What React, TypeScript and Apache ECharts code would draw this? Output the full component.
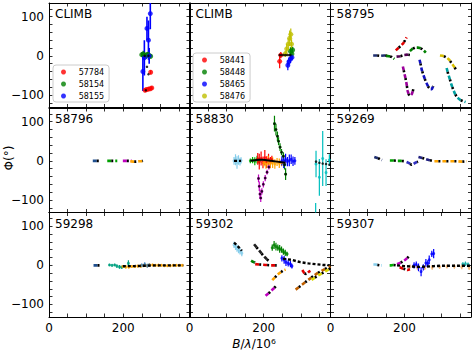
import React, { useEffect, useRef } from 'react';
import * as echarts from 'echarts';

const FONT = 'DejaVu Sans';
const panelLabels = ['CLIMB', 'CLIMB', '58795', '58796', '58830', '59269', '59298', '59302', '59307'];
const xTickLabels = [0, 200];
const yTickLabels = [-100, 0, 100];
const legendA = ['57784', '58154', '58155'];
const legendB = ['58441', '58448', '58465', '58476'];

// Panel 0 (CLIMB)
const p0_57784 = [[259, -88, 4], [263, -86, 4], [268, -85, 4], [273, -84, 4], [277, -82, 4], [274, -42, 5]];
const p0_58154 = [[250, 3, 6], [254, 5, 8], [258, 2, 6], [262, 0, 8], [266, 4, 6], [270, 1, 6], [274, -1, 6]];
const p0_58155 = [[253, -40, 50], [257, -5, 45], [264, 70, 30], [268, 40, 50], [273, 108, 40], [270, 0, 20]];
const p0_model = [[264, -28], [268, -47], [261, -88], [258, 0], [268, 0]];
// Panel 1 (CLIMB)
const p1_58441 = [[243, -14, 18], [246, 2, 8]];
const p1_58448 = [[272, 12, 10], [276, 5, 12], [278, 15, 8]];
const p1_58465 = [[265, -24, 13], [268, -15, 10], [272, -8, 10], [276, -4, 8]];
const p1_58476 = [[258, 5, 8], [262, 18, 12], [266, 30, 15], [270, 45, 20], [273, 55, 15], [275, 30, 12]];
const p1_model = [[243, 2], [248, 2], [253, 2], [258, 2], [263, 2], [268, 2], [272, 2]];
// Panel 2 (58795)
const p2_navy = [[115, 1], [125, 1], [135, 0], [145, 1], [155, 0]];
const p2_green = [[150, 0], [158, -1], [165, -3], [172, -8]];
const p2_red = [[176, 14], [183, 20], [190, 26], [196, 32], [201, 40], [205, 47]];
const p2_dark = [[178, -2], [188, -1], [198, 2], [207, 3], [214, 2]];
const p2_green2 = [[214, 12], [221, 18], [228, 21], [235, 21], [241, 20], [247, 17], [252, 13], [257, 8]];
const p2_purple = [[195, -27], [198, -40], [201, -53], [204, -66], [206, -78], [208, -90], [211, -99], [215, -102], [219, -98], [222, -90], [224, -82]];
const p2_blue = [[240, -10], [243, -22], [246, -36], [250, -48], [255, -61], [260, -72], [264, -80], [269, -85], [273, -85], [277, -77]];
const p2_yellow = [[295, 1], [302, 0], [308, -2], [314, -5], [320, -10], [326, -18], [331, -25], [336, -32], [339, -36]];
const p2_cyan = [[313, -31], [317, -46], [322, -61], [326, -74], [331, -87], [336, -98], [342, -107], [350, -113], [358, -116], [364, -118]];
// Panel 3 (58796)
const p3_navy = [[118, 0], [123, 0], [128, 0], [133, 0], [138, 0]];
const p3_green = [[157, 0], [164, 0], [170, 0], [177, 0], [184, 0]];
const p3_purple = [[199, 0], [205, 0], [211, 0], [217, 0], [223, 0]];
const p3_orange = [[219, -1], [227, -2], [235, -2], [243, -1], [250, -1], [253, 0]];
// Panel 4 (58830)
const p4_sky = [[120, 0, 10], [124, 3, 14], [128, -4, 16], [132, 2, 12], [136, -2, 10], [139, 1, 8]];
const p4_skyModel = [[120, 0], [124, 0], [128, 0], [132, 0], [136, 0], [139, 0]];
const p4_green = [[164, 0, 6], [170, 2, 8], [176, -1, 10], [182, 3, 10], [188, 0, 8]];
const p4_red = [[184, 5, 15], [188, -2, 20], [193, 6, 18], [198, -4, 15], [203, 8, 20], [208, -3, 15], [213, 4, 14], [218, -2, 12], [222, 3, 10]];
const p4_orange = [[200, -5, 10], [206, -8, 12], [212, -2, 15], [218, -7, 12], [224, -4, 14], [230, -8, 12], [236, -3, 10], [242, -6, 12], [248, -4, 10], [255, -5, 8]];
const p4_model = [[164, 0], [172, 1], [180, 2], [188, 3], [196, 3], [204, 2], [212, 1], [220, 0], [228, -1], [236, -2], [244, -3], [252, -4], [258, -5]];
const p4_magenta = [[186, -45, 10], [188, -65, 12], [190, -85, 12], [192, -95, 10], [195, -78, 8], [199, -60, 8], [204, -44, 8], [209, -29, 6], [214, -16, 6]];
const p4_green2 = [[229, 95, 20], [233, 80, 15], [237, 63, 12], [240, 50, 10], [244, 35, 10], [248, 22, 8], [253, 12, 10], [256, -10, 12], [259, -34, 15]];
const p4_blue = [[249, 0, 12], [254, -3, 15], [259, 3, 15], [264, -2, 12], [269, 1, 15], [274, 4, 12], [279, -1, 12], [284, 0, 10]];
const p4_cyan = [[341, -8, 34], [350, -42, 47], [359, 6, 70], [368, -30, 34], [377, 2, 15], [340, -150, 42]];
const p4_cyanModel = [[341, -2], [350, -5], [359, -7], [368, -8], [377, -10]];
// Panel 5 (59269)
const p5_navy = [[118, 10], [124, 8], [130, 6], [136, 3], [139, 2]];
const p5_green = [[160, 1], [170, 1], [180, 0], [190, 0], [200, -1]];
const p5_blue = [[205, -3], [212, -6], [218, -10], [224, -8], [230, -4], [236, -2]];
const p5_black = [[237, 10], [245, 8], [255, 5], [265, 2], [275, 0]];
const p5_orange = [[280, -1], [295, -1], [310, -1], [325, -1], [340, -1], [355, -2], [367, -1]];
// Panel 6 (59298)
const p6_navy = [[120, 0], [125, 0], [130, 0], [135, 0], [140, 0]];
const p6_teal = [[163, 1, 3], [170, 0, 3], [177, 1, 3], [183, -2, 4], [190, -4, 5], [196, -5, 4], [202, -3, 3], [214, 5, 8]];
const p6_orange = [[199, -3, 3], [207, -4, 4], [215, -4, 4], [223, -3, 3], [231, -3, 4], [239, -2, 3], [247, -2, 4], [255, -1, 3], [263, -1, 3], [271, 1, 4], [279, 1, 3], [287, 0, 3], [295, 0, 4], [303, 0, 3], [311, -1, 3], [319, -1, 3], [327, -1, 3], [335, 0, 3], [343, 0, 3], [351, 0, 3], [359, 0, 3]];
const p6_blue = [[250, 0, 5], [258, 2, 6], [265, -1, 5], [270, 1, 4]];
const p6_model = [[199, -2], [230, -2], [260, -1], [290, 0], [320, 0], [362, 0]];
// Panel 7 (59302)
const p7_sky = [[120, 52, 8], [124, 48, 9], [128, 44, 9], [132, 40, 9], [136, 36, 8], [141, 31, 8]];
const p7_skyModel = [[120, 58], [126, 53], [131, 48], [136, 43], [141, 37]];
const p7_black = [[174, 54], [180, 47], [186, 40], [192, 33], [198, 26], [204, 20], [209, 15], [213, 12]];
const p7_green = [[166, 12], [171, 9], [177, 7]];
const p7_red = [[177, 3], [190, 2], [205, 1], [220, 0], [235, 0]];
const p7_green2 = [[223, 45, 8], [228, 52, 10], [233, 48, 10], [238, 45, 8], [243, 42, 10], [248, 40, 8], [253, 35, 8], [258, 32, 8], [263, 29, 6]];
const p7_blue = [[249, 18, 8], [255, 14, 10], [260, 8, 10], [266, 5, 8], [272, 3, 8], [276, -2, 6]];
const p7_black2 = [[252, 17], [275, 14], [299, 8], [320, 5], [340, 3], [360, 1], [380, 0]];
const p7_orange = [[223, -38], [229, -32], [235, -26], [241, -21], [247, -17], [253, -13], [259, -11]];
const p7_purple = [[205, -78], [210, -74], [215, -70], [220, -65], [226, -60], [231, -55], [236, -50]];
const p7_red2 = [[304, -12], [308, -18], [313, -22], [318, -20], [322, -16], [326, -14]];
const p7_darkorange = [[286, -62], [300, -52], [315, -41], [330, -30], [345, -20], [360, -12], [372, -6], [380, -3]];
const p7_yellow = [[329, -37], [340, -30], [350, -24], [362, -18], [372, -12], [380, -8]];
// Panel 8 (59307)
const p8_sky = [[116, 2], [122, 2], [128, 1], [134, 0], [139, 0]];
const p8_green = [[160, 0], [165, 0], [170, 1], [177, 0]];
const p8_magenta = [[180, 3], [188, 6], [195, 10], [202, 14], [208, 19], [214, 25]];
const p8_red = [[187, -5], [195, -8], [202, -10], [208, -12], [215, -10]];
const p8_orange = [[215, -3, 5], [235, -5, 6], [255, -6, 6], [275, -5, 6], [295, -4, 5], [315, -3, 5], [335, -3, 6], [355, -4, 6], [375, -6, 6]];
const p8_blue = [[226, 0, 8], [232, 2, 8], [238, -5, 10], [245, -16, 12], [251, -5, 8], [258, 6, 10], [263, 5, 8], [267, 14, 11], [274, 29, 8], [279, 30, 12]];
const p8_black = [[180, 0], [200, -2], [220, -3], [240, -4], [260, -3], [280, -2], [300, -1], [320, -1], [340, -1], [360, -1], [378, -1]];
const p8_cyan = [[358, 3, 5], [365, 4, 6], [372, 2, 5]];

type Trace = { p: number; kind: 'pts' | 'model' | 'track' | 'mdash' | 'solid'; color: string; data: number[][]; name?: string; size?: number; ew?: number };

const traces: Trace[] = [
  { p: 0, kind: 'pts', color: '#ff0000', data: p0_57784, name: '57784', size: 5 },
  { p: 0, kind: 'pts', color: '#008000', data: p0_58154, name: '58154', size: 5 },
  { p: 0, kind: 'pts', color: '#0000ff', data: p0_58155, name: '58155', size: 5, ew: 1.6 },
  { p: 0, kind: 'model', color: '#000', data: p0_model },
  { p: 1, kind: 'pts', color: '#ff0000', data: p1_58441, name: '58441', size: 5 },
  { p: 1, kind: 'pts', color: '#008000', data: p1_58448, name: '58448', size: 5 },
  { p: 1, kind: 'pts', color: '#0000ff', data: p1_58465, name: '58465', size: 5 },
  { p: 1, kind: 'pts', color: '#bfbf00', data: p1_58476, name: '58476', size: 5 },
  { p: 1, kind: 'model', color: '#000', data: p1_model },
  { p: 2, kind: 'track', color: '#1f2f6f', data: p2_navy },
  { p: 2, kind: 'track', color: '#008000', data: p2_green },
  { p: 2, kind: 'track', color: '#e00000', data: p2_red },
  { p: 2, kind: 'track', color: '#500050', data: p2_dark },
  { p: 2, kind: 'track', color: '#008000', data: p2_green2 },
  { p: 2, kind: 'track', color: '#9b009b', data: p2_purple },
  { p: 2, kind: 'track', color: '#1010c0', data: p2_blue },
  { p: 2, kind: 'track', color: '#d8c000', data: p2_yellow },
  { p: 2, kind: 'track', color: '#00a0a0', data: p2_cyan },
  { p: 3, kind: 'track', color: '#1f4f8f', data: p3_navy },
  { p: 3, kind: 'track', color: '#00a000', data: p3_green },
  { p: 3, kind: 'track', color: '#c000c0', data: p3_purple },
  { p: 3, kind: 'track', color: '#ffa500', data: p3_orange },
  { p: 4, kind: 'pts', color: '#87ceeb', data: p4_sky },
  { p: 4, kind: 'mdash', color: '#000', data: p4_skyModel },
  { p: 4, kind: 'pts', color: '#00b000', data: p4_green },
  { p: 4, kind: 'pts', color: '#ff0000', data: p4_red },
  { p: 4, kind: 'pts', color: '#ffa500', data: p4_orange },
  { p: 4, kind: 'solid', color: '#000', data: p4_model },
  { p: 4, kind: 'pts', color: '#c000c0', data: p4_magenta },
  { p: 4, kind: 'model', color: '#000', data: p4_magenta },
  { p: 4, kind: 'pts', color: '#008000', data: p4_green2 },
  { p: 4, kind: 'model', color: '#000', data: p4_green2 },
  { p: 4, kind: 'pts', color: '#0000ff', data: p4_blue },
  { p: 4, kind: 'pts', color: '#00bfbf', data: p4_cyan },
  { p: 4, kind: 'model', color: '#000', data: p4_cyanModel },
  { p: 5, kind: 'track', color: '#1f2f6f', data: p5_navy },
  { p: 5, kind: 'track', color: '#00a000', data: p5_green },
  { p: 5, kind: 'track', color: '#3030c0', data: p5_blue },
  { p: 5, kind: 'track', color: '#202080', data: p5_black },
  { p: 5, kind: 'track', color: '#ffa500', data: p5_orange },
  { p: 6, kind: 'track', color: '#1f4f8f', data: p6_navy },
  { p: 6, kind: 'pts', color: '#00a080', data: p6_teal },
  { p: 6, kind: 'pts', color: '#ffa500', data: p6_orange },
  { p: 6, kind: 'pts', color: '#4682b4', data: p6_blue },
  { p: 6, kind: 'mdash', color: '#000', data: p6_model },
  { p: 7, kind: 'pts', color: '#87ceeb', data: p7_sky },
  { p: 7, kind: 'mdash', color: '#000', data: p7_skyModel },
  { p: 7, kind: 'track', color: '#202020', data: p7_black },
  { p: 7, kind: 'track', color: '#008000', data: p7_green },
  { p: 7, kind: 'track', color: '#e00000', data: p7_red },
  { p: 7, kind: 'pts', color: '#008000', data: p7_green2 },
  { p: 7, kind: 'pts', color: '#0000ff', data: p7_blue },
  { p: 7, kind: 'mdash', color: '#000', data: p7_black2 },
  { p: 7, kind: 'track', color: '#ffa500', data: p7_orange },
  { p: 7, kind: 'track', color: '#c000c0', data: p7_purple },
  { p: 7, kind: 'track', color: '#e00000', data: p7_red2 },
  { p: 7, kind: 'track', color: '#c06000', data: p7_darkorange },
  { p: 7, kind: 'track', color: '#d8d800', data: p7_yellow },
  { p: 8, kind: 'track', color: '#87ceeb', data: p8_sky },
  { p: 8, kind: 'track', color: '#00b000', data: p8_green },
  { p: 8, kind: 'track', color: '#c000c0', data: p8_magenta },
  { p: 8, kind: 'track', color: '#e00000', data: p8_red },
  { p: 8, kind: 'pts', color: '#f0b070', data: p8_orange },
  { p: 8, kind: 'pts', color: '#0000ff', data: p8_blue },
  { p: 8, kind: 'mdash', color: '#000', data: p8_black },
  { p: 8, kind: 'pts', color: '#20b2aa', data: p8_cyan },
];

const colLeft = [49, 189.5, 330.5];
const rowTop = [3, 108, 212.5];
const W = 141;
const H = 104.5;

function errItem(color: string, lw: number) {
  return (params: any, api: any) => {
    const x = api.value(0), y = api.value(1), e = api.value(2);
    const a = api.coord([x, y - e]);
    const b = api.coord([x, y + e]);
    return { type: 'line', shape: { x1: a[0], y1: a[1], x2: b[0], y2: b[1] }, style: { stroke: color, lineWidth: lw } };
  };
}

function buildOption() {
  const grids: any[] = [];
  const xAxes: any[] = [];
  const yAxes: any[] = [];
  const axLine = { show: true, onZero: false, lineStyle: { color: '#000', width: 1 } };
  const tick = { show: true, inside: true, length: 3.5, lineStyle: { color: '#000', width: 0.8 } };
  for (let i = 0; i < 9; i++) {
    const c = i % 3, r = Math.floor(i / 3);
    grids.push({ left: colLeft[c], top: rowTop[r], width: W, height: H, containLabel: false });
  }
  for (const pos of ['bottom', 'top']) {
    for (let i = 0; i < 9; i++) {
      const r = Math.floor(i / 3);
      xAxes.push({
        gridIndex: i, type: 'value', position: pos, min: 0, max: 380, interval: 50,
        axisLine: axLine, axisTick: tick, splitLine: { show: false },
        axisLabel: {
          show: pos === 'bottom' && r === 2, margin: 5, fontSize: 12, color: '#000', fontFamily: FONT,
          formatter: (v: number) => (xTickLabels.includes(v) ? String(v) : ''),
        },
      });
    }
  }
  for (const pos of ['left', 'right']) {
    for (let i = 0; i < 9; i++) {
      const c = i % 3;
      yAxes.push({
        gridIndex: i, type: 'value', position: pos, min: -132, max: 135, minInterval: 20, maxInterval: 20,
        axisLine: axLine, axisTick: tick, splitLine: { show: false },
        axisLabel: {
          show: pos === 'left' && c === 0, margin: 5, fontSize: 12, color: '#000', fontFamily: FONT,
          formatter: (v: number) => (yTickLabels.includes(v) ? String(v).replace('-', '\u2212') : ''),
        },
      });
    }
  }
  const series: any[] = [];
  traces.forEach((t) => {
    const base = { xAxisIndex: t.p, yAxisIndex: t.p, animation: false, silent: true };
    const xy = t.data.map((d) => [d[0], d[1]]);
    if (t.kind === 'pts') {
      if (t.data[0].length > 2) {
        series.push({ ...base, type: 'custom', renderItem: errItem(t.color, t.ew ?? 1.2), data: t.data, encode: { x: 0, y: 1 }, clip: true });
      }
      series.push({ ...base, type: 'scatter', name: t.name, data: xy, symbol: 'circle', symbolSize: t.size ?? 3, itemStyle: { color: t.color } });
    } else if (t.kind === 'model') {
      series.push({ ...base, type: 'scatter', data: xy, symbol: 'circle', symbolSize: 2.5, itemStyle: { color: t.color } });
    } else if (t.kind === 'track') {
      series.push({ ...base, type: 'line', data: xy, showSymbol: false, lineStyle: { color: t.color, width: 2.6, type: [4, 4] } });
      series.push({ ...base, type: 'line', data: xy, showSymbol: false, lineStyle: { color: '#000', width: 2.6, type: [2, 6], dashOffset: 4 } });
    } else if (t.kind === 'mdash') {
      series.push({ ...base, type: 'line', data: xy, showSymbol: false, lineStyle: { color: t.color, width: 2.4, type: [3, 2] } });
    } else {
      series.push({ ...base, type: 'line', data: xy, showSymbol: false, lineStyle: { color: t.color, width: 2 } });
    }
  });
  const legendCommon = {
    orient: 'vertical', icon: 'circle', itemWidth: 5, itemHeight: 5, itemGap: 4,
    borderColor: '#cccccc', borderWidth: 1, borderRadius: 3, backgroundColor: 'rgba(255,255,255,0.8)',
    textStyle: { fontSize: 8, lineHeight: 8, color: '#000', fontFamily: FONT },
    formatter: (n: string) => '   ' + n,
    selectedMode: false,
  };
  const legend = [
    { ...legendCommon, data: legendA, left: 53, top: 65, padding: [3, 5, 2, 8] },
    { ...legendCommon, data: legendB, left: 193, top: 53, padding: [3, 5, 2, 9] },
  ];
  const title = panelLabels.map((t, i) => ({
    text: t, left: colLeft[i % 3] + 6, top: rowTop[Math.floor(i / 3)] + 5, padding: 0,
    textStyle: { fontSize: 12, fontWeight: 'normal', color: '#000', fontFamily: FONT },
  }));
  const graphic = [
    { type: 'text', x: 8.5, y: 158, rotation: Math.PI / 2, style: { text: 'Φ(°)', fontSize: 12, fill: '#000', fontFamily: FONT, align: 'center', verticalAlign: 'middle' } },
    {
      type: 'text', x: 254, y: 344,
      style: {
        text: '{i|B}/{i|λ}/10⁶', fontSize: 12, fill: '#000', fontFamily: FONT, align: 'center', verticalAlign: 'middle',
        rich: { i: { fontStyle: 'italic', fontSize: 12, fontFamily: FONT, fill: '#000' } },
      },
    },
  ];
  return {
    animation: false,
    textStyle: { fontFamily: FONT },
    grid: grids, xAxis: xAxes, yAxis: yAxes, series, legend, title, graphic,
  };
}

export default function App() {
  const ref = useRef<HTMLDivElement>(null);
  useEffect(() => {
    if (!ref.current) return;
    const chart = echarts.init(ref.current, undefined, { renderer: 'svg' });
    chart.setOption(buildOption() as any);
    return () => chart.dispose();
  }, []);
  return <div ref={ref} style={{ position: 'fixed', left: 0, top: 0, width: 474, height: 353, background: '#fff' }} />;
}
